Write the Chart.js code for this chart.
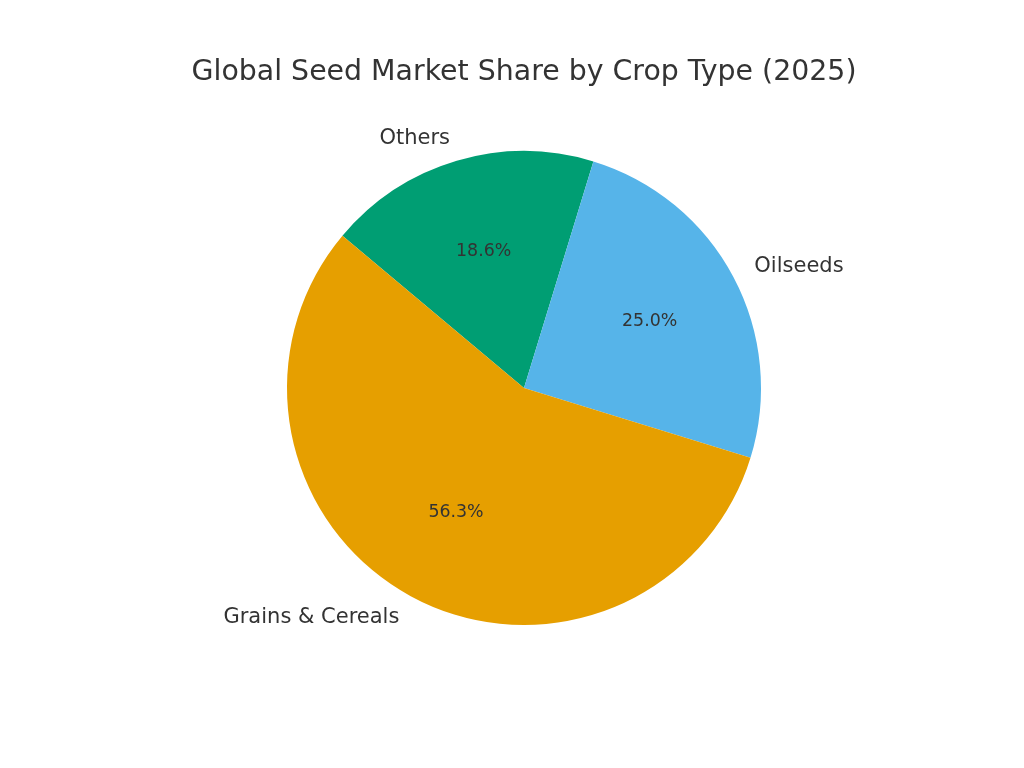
<!DOCTYPE html>
<html>
<head>
<meta charset="utf-8">
<script src="https://cdn.jsdelivr.net/npm/chart.js@4"></script>
<style>
html,body{margin:0;padding:0;background:#fff;}
#wrap{width:1024px;height:768px;position:relative;}
</style>
</head>
<body>
<div id="wrap"><canvas id="c" width="1024" height="768"></canvas></div>
<script>
// Data (drawn clockwise in Chart.js; matplotlib order was counterclockwise)
const categories = ["Others", "Oilseeds", "Grains & Cereals"];
const shares = [18.6, 25.0, 56.3];
const colors = ["#009E73", "#56B4E9", "#E69F00"];
const titleText = "Global Seed Market Share by Crop Type (2025)";

const FONT = "'DejaVu Sans', sans-serif";
const TXT = "#333333";

const labelPlugin = {
  id: 'pieLabels',
  afterDatasetsDraw(chart) {
    const ctx = chart.ctx;
    const meta = chart.getDatasetMeta(0);
    ctx.save();
    meta.data.forEach((arc, i) => {
      const p = arc.getProps(['x', 'y', 'startAngle', 'endAngle', 'outerRadius'], true);
      const mid = (p.startAngle + p.endAngle) / 2;
      const c = Math.cos(mid), s = Math.sin(mid);
      // category label at 1.1 r
      const lx = p.x + c * p.outerRadius * 1.1;
      const ly = p.y + s * p.outerRadius * 1.1 + 1;
      ctx.fillStyle = TXT;
      ctx.font = "21px " + FONT;
      ctx.textBaseline = 'middle';
      ctx.textAlign = c < 0 ? 'right' : 'left';
      ctx.fillText(categories[i], lx, ly);
      // percent at 0.6 r
      const px = p.x + c * p.outerRadius * 0.6;
      const py = p.y + s * p.outerRadius * 0.6;
      ctx.font = "17.4px " + FONT;
      ctx.textAlign = 'center';
      ctx.fillText(shares[i].toFixed(1) + "%", px, py);
    });
    // title
    ctx.font = "28.4px " + FONT;
    ctx.textAlign = 'center';
    ctx.textBaseline = 'middle';
    ctx.fillText(titleText, 524, 73);
    ctx.restore();
  }
};

new Chart(document.getElementById('c'), {
  type: 'pie',
  data: {
    labels: categories,
    datasets: [{
      data: shares,
      backgroundColor: colors,
      borderWidth: 0
    }]
  },
  options: {
    responsive: false,
    animation: false,
    rotation: -50,
    layout: { padding: { top: 151, bottom: 143, left: 287, right: 263 } },
    plugins: {
      legend: { display: false },
      tooltip: { enabled: false },
      title: { display: false }
    }
  },
  plugins: [labelPlugin]
});
</script>
</body>
</html>
